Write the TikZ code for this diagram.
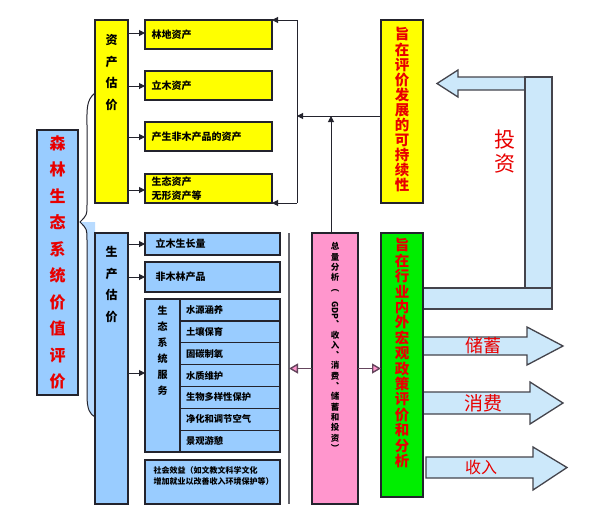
\documentclass[tikz,border=0pt]{standalone}
\usepackage{fontspec}
\newfontfamily\cjk{Noto Sans CJK SC}
\usetikzlibrary{arrows.meta,positioning,calc}
\definecolor{boxyellow}{RGB}{255,255,0}
\definecolor{boxblue}{RGB}{153,204,255}
\definecolor{paleblue}{RGB}{204,232,250}
\definecolor{boxpink}{RGB}{255,150,205}
\definecolor{boxgreen}{RGB}{0,238,0}
\definecolor{edge}{RGB}{35,35,45}
\definecolor{redtext}{RGB}{232,0,0}
\tikzset{
  box/.style={draw=edge,line width=1.3pt,inner sep=0pt,outer sep=0pt},
  colbox/.style={box,anchor=north west,minimum width=33pt},
  coltext/.style={font=\cjk\bfseries\fontsize{12}{21.5}\selectfont,align=center},
  itembox/.style={box,anchor=north west,minimum height=29pt,text width=114pt,align=left,
    font=\cjk\bfseries\fontsize{10}{14}\selectfont},
  rowbox/.style={box,fill=boxblue,minimum width=100pt,minimum height=21.86pt,text width=88pt,
    align=left,font=\cjk\bfseries\fontsize{9.3}{11}\selectfont},
  aimbox/.style={box,anchor=north west,minimum width=42pt},
  aimtext/.style={font=\cjk\bfseries\fontsize{14.5}{15.1}\selectfont,text=redtext,align=center},
  arr/.style={-{Triangle[length=6pt,width=6pt]},line width=1pt,draw=edge},
  pinkarr/.style={-{Triangle[length=9pt,width=10pt,fill=boxpink]},line width=1.4pt,draw=edge!70!boxpink},
  bigarrow/.style={draw=edge!85,line width=1.3pt,fill=paleblue,line join=miter},
  flowlabel/.style={font=\cjk\fontsize{18}{18}\selectfont,text=redtext}
}
\begin{document}
\begin{tikzpicture}[x=1pt,y=-1pt]
  \useasboundingbox[fill=white] (0,0) rectangle (595,523);

  % brace between the main box and the two columns
  \fill[boxblue!70] (80,222) .. controls (87,229) .. (87,240) -- (87,395)
    .. controls (87,410) and (90,414) .. (95,417) -- (95,222) -- cycle;
  \draw[edge,line width=1pt] (95,93) .. controls (86,100) and (87,110) .. (87,125) -- (87,205)
    .. controls (87,215) .. (80,222) .. controls (87,229) .. (87,240) -- (87,395)
    .. controls (87,410) and (90,414) .. (95,417);

  % main box
  \node[box,fill=boxblue,anchor=north west,minimum width=41pt,minimum height=265pt,
    font=\cjk\bfseries\fontsize{16}{26.5}\selectfont,text=redtext,align=center]
    (forestval) at (37,130) {森\\林\\生\\态\\系\\统\\价\\值\\评\\价};

  % asset valuation
  \node[colbox,fill=boxyellow,minimum height=183pt] (assetcol) at (95,20) {};
  \node[coltext,below=11pt of assetcol.north] (assetlbl) {资\\产\\估\\价};
  \node[itembox,fill=boxyellow,minimum width=127pt] (forestland) at (145,20) {林地资产};
  \node[itembox,fill=boxyellow,minimum width=127pt] (standwood) at (145,71) {立木资产};
  \node[itembox,fill=boxyellow,minimum width=127pt] (nonwood) at (145,122) {产生非木产品的资产};
  \node[itembox,fill=boxyellow,minimum width=127pt] (ecoasset) at (145,174) {生态资产\\无形资产等};
  \draw[arr] (assetcol.east |- 0,33) -- (forestland.west |- 0,33);
  \draw[arr] (assetcol.east |- 0,86) -- (standwood.west |- 0,86);
  \draw[arr] (assetcol.east |- 0,137) -- (nonwood.west |- 0,137);
  \draw[arr] (assetcol.east |- 0,190) -- (ecoasset.west |- 0,190);

  % production valuation
  \node[colbox,fill=boxblue,minimum height=271pt] (prodcol) at (95,233) {};
  \node[coltext,below=10pt of prodcol.north] (prodlbl) {生\\产\\估\\价};
  \node[itembox,fill=boxblue,minimum width=135pt,minimum height=22pt] (growth) at (145,233) {立木生长量};
  \node[itembox,fill=boxblue,minimum width=135pt,minimum height=30pt] (nwproduct) at (145,262) {非木林产品};
  \node[box,fill=boxblue,anchor=north west,minimum width=35pt,minimum height=153pt] (ecoserv) at (145,299) {};
  \node[below=3pt of ecoserv.north,font=\cjk\bfseries\fontsize{10}{16}\selectfont,align=center]
    (ecolbl) {生\\态\\系\\统\\服\\务};
  \node[rowbox,anchor=north west] (water) at (180,299) {水源涵养};
  \node[rowbox,below=0pt of water] (soil) {土壤保育};
  \node[rowbox,below=0pt of soil] (carbon) {固碳制氧};
  \node[rowbox,below=0pt of carbon] (quality) {水质维护};
  \node[rowbox,below=0pt of quality] (biodiv) {生物多样性保护};
  \node[rowbox,below=0pt of biodiv] (air) {净化和调节空气};
  \node[rowbox,below=0pt of air] (scenery) {景观游憩};
  \node[box,fill=boxblue,anchor=north west,minimum width=135pt,minimum height=44pt] (social) at (145,460) {};
  \node[below right=3pt and 5pt of social.north west,text width=127pt,align=left,
    font=\cjk\bfseries\fontsize{8}{11}\selectfont] (sociallbl)
    {社会效益（如文教文科学文化\\增加就业以改善收入环境保护等）};
  \draw[arr] (prodcol.east |- growth) -- (growth.west);
  \draw[arr] (prodcol.east |- 0,277) -- (nwproduct.west |- 0,277);
  \draw[arr] (prodcol.east |- 0,373) -- (ecoserv.west |- 0,373);

  % right side frame line and arrows to the asset boxes
  \coordinate (brk) at (297,116);
  \draw[edge,line width=1pt] (brk |- forestland.north east) -- (brk |- ecoasset.south east);
  \draw[arr] (brk |- forestland.north east) -- (forestland.north east);
  \draw[arr] (brk |- ecoasset.south east) -- (ecoasset.south east);

  % sustainability box
  \node[aimbox,fill=boxyellow,minimum height=183pt] (aimsus) at (381,20) {};
  \node[aimtext,below=4pt of aimsus.north] (aimsuslbl) {旨\\在\\评\\价\\发\\展\\的\\可\\持\\续\\性};
  \draw[arr] (aimsus.west |- brk) -- (brk);

  % aggregate analysis
  \coordinate (sep) at (289,233);
  \draw[edge!70,line width=1.2pt] (sep) -- (sep |- prodcol.south);
  \node[box,fill=boxpink,anchor=north west,minimum width=46pt,minimum height=271pt] (gdp) at (312,233) {};
  \node[below=6pt of gdp.north,font=\cjk\bfseries\fontsize{8.5}{10.3}\selectfont,align=center] (gdplbl)
    {总\\量\\分\\析\\︵\\\rotatebox{-90}{GDP}\\︑\\收\\入\\︑\\消\\费\\︑\\储\\蓄\\和\\投\\资\\︶};
  \draw[arr] ([xshift=-4pt]gdp.north) -- ([xshift=-4pt]gdp.north |- brk);

  % flow arrows (drawn before the green box)
  \draw[bigarrow] (458,77) -- (458,70) -- (437,83.5) -- (458,97) -- (458,90) -- (530,90) -- (530,77) -- cycle;
  \draw[bigarrow] (525,77) rectangle (552,309);
  \draw[bigarrow] (421,288) rectangle (552,309);
  \draw[bigarrow] (421,337) -- (527,337) -- (527,327) -- (563,346) -- (527,365) -- (527,355) -- (421,355) -- cycle;
  \draw[bigarrow] (421,392) -- (530,392) -- (530,382) -- (563,403) -- (530,424) -- (530,414) -- (421,414) -- cycle;
  \draw[bigarrow] (426,457) -- (533,457) -- (533,447) -- (567,467.5) -- (533,490) -- (533,478) -- (426,478) -- cycle;
  \node[flowlabel,font=\cjk\fontsize{21}{24}\selectfont,align=center] (invest) at (505,152) {投\\资};
  \node[flowlabel] (saving) at (483,346) {储蓄};
  \node[flowlabel,font=\cjk\fontsize{19}{19}\selectfont] (consume) at (483,403) {消费};
  \node[flowlabel,font=\cjk\fontsize{16}{16}\selectfont] (income) at (481,467) {收入};

  % policy box
  \node[aimbox,fill=boxgreen,minimum height=264pt] (policy) at (381,233) {};
  \node[aimtext,font=\cjk\bfseries\fontsize{14.5}{15.4}\selectfont,below=2pt of policy.north] (policylbl)
    {旨\\在\\行\\业\\内\\外\\宏\\观\\政\\策\\评\\价\\和\\分\\析};

  \draw[pinkarr] (gdp.west) -- (sep |- gdp.west);
  \draw[pinkarr] (gdp.east) -- (policy.west |- gdp.east);
\end{tikzpicture}
\end{document}
